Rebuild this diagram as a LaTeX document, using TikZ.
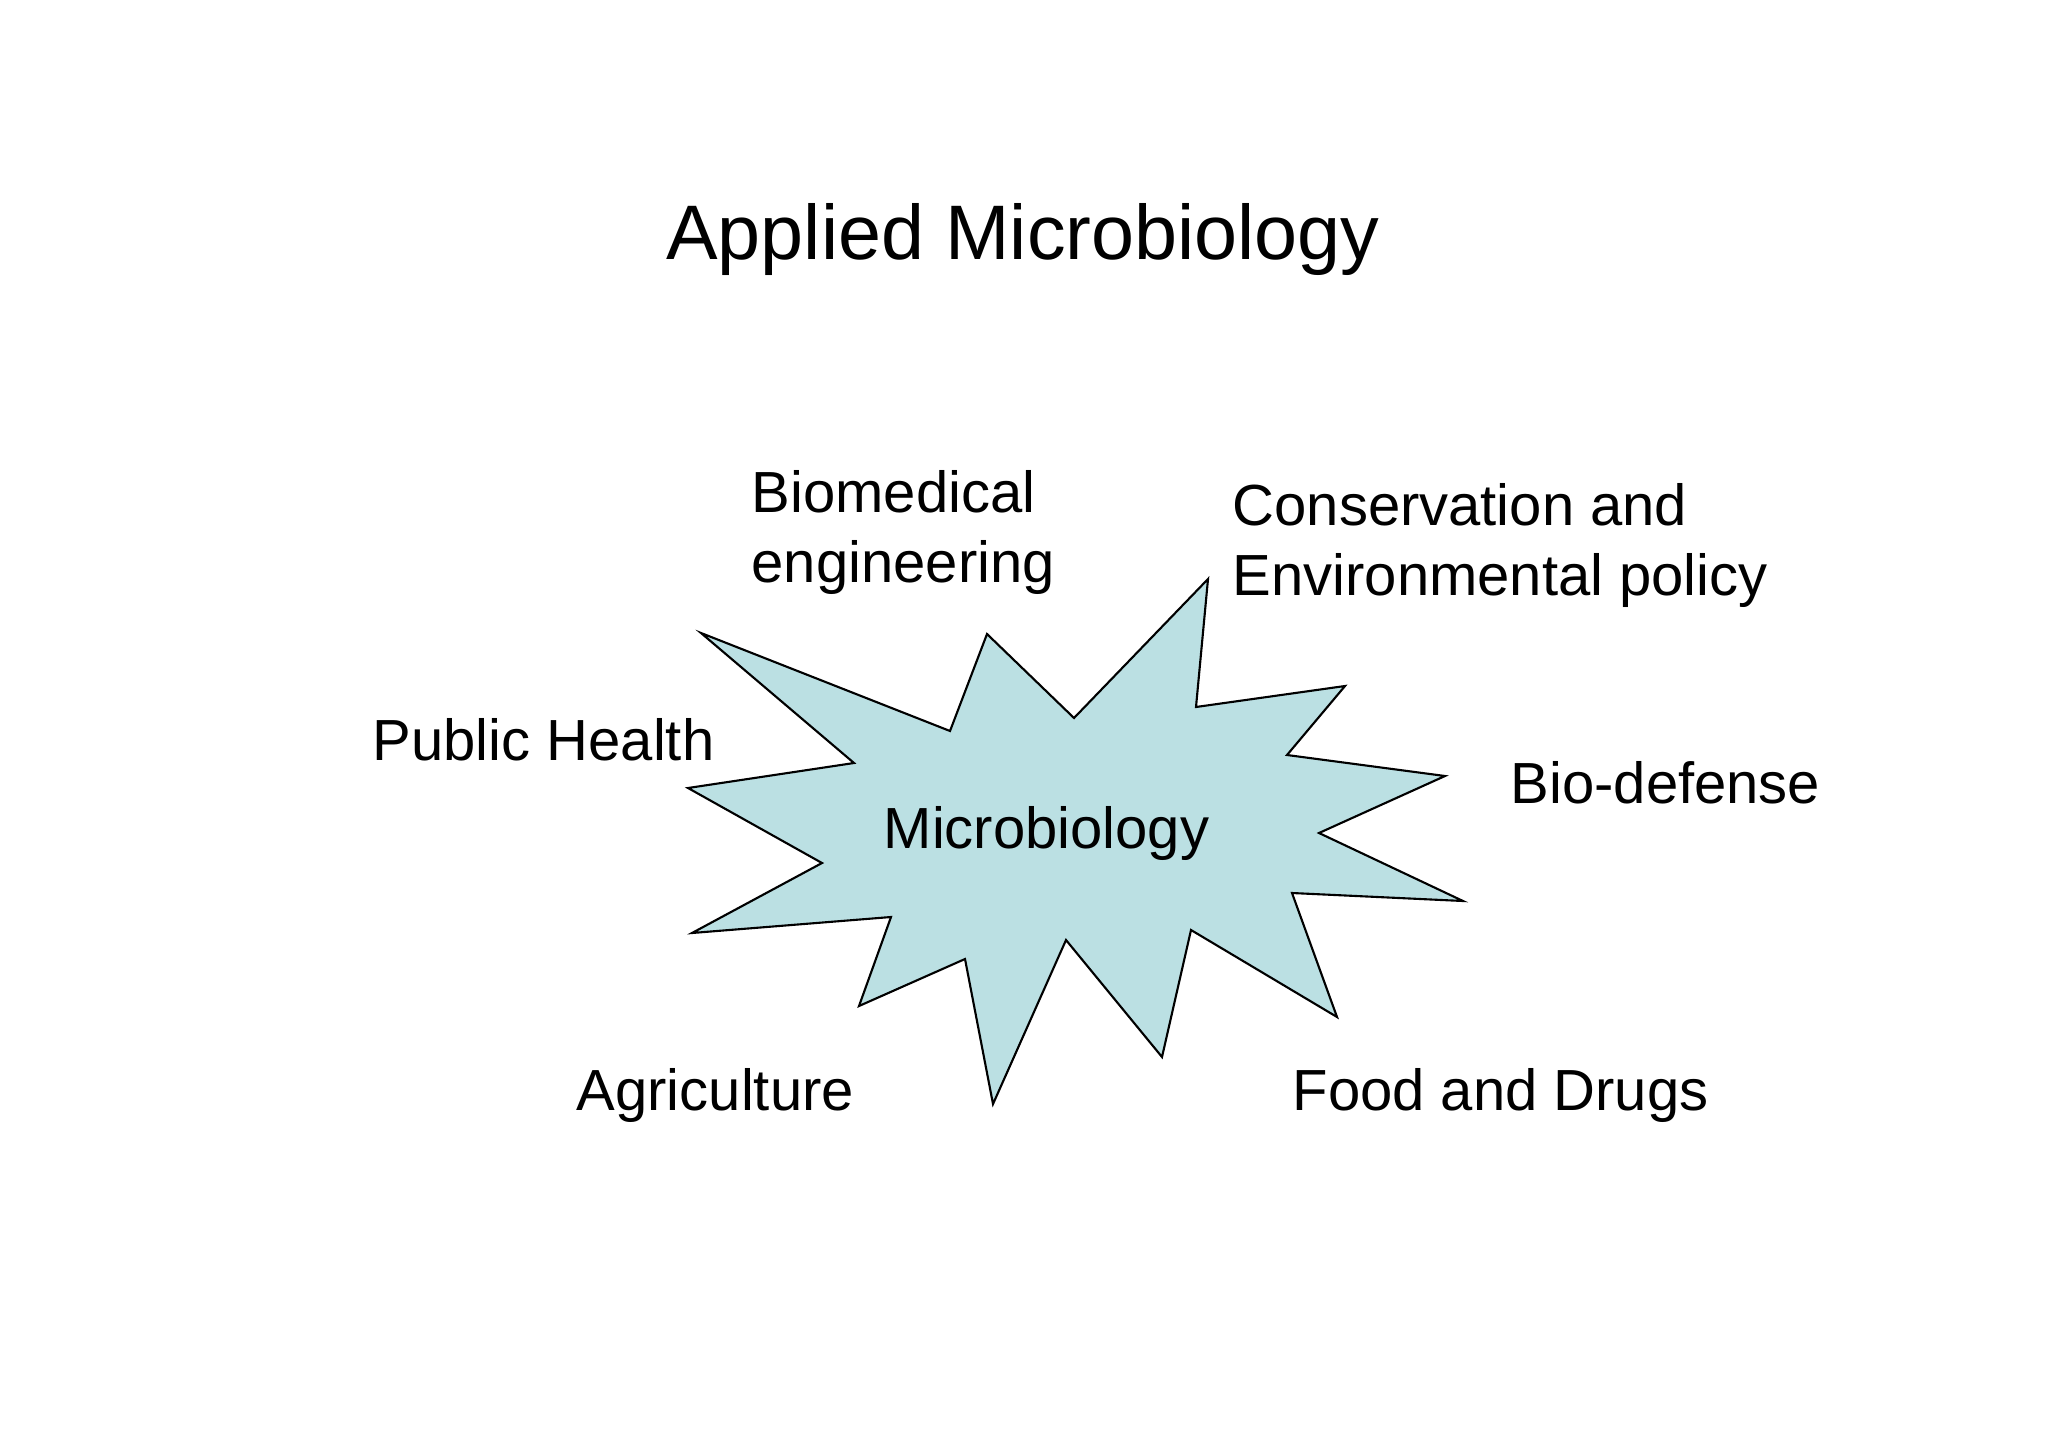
\documentclass[tikz,border=0pt]{standalone}
\usepackage{fontspec}
\setmainfont{Liberation Sans}
\definecolor{burstfill}{HTML}{BBE0E3}
\begin{document}
\begin{tikzpicture}[x=0.1mm, y=-0.1mm,
	lbl/.style = {anchor=base west, inner sep=0pt, align=left, font=\fontsize{16.5}{19.8}\selectfont},
	burst/.style = {draw, fill=burstfill, line width=0.6pt}]
	\useasboundingbox (0,0) rectangle (2048,1448);
		% the burst
		\filldraw[burst] (701,633) -- (950,731) -- (987,634) -- (1074,718)
			-- (1208,579) -- (1196,707) -- (1345,686) -- (1287,755)
			-- (1445,776) -- (1319,833) -- (1463,901) -- (1292,893)
			-- (1337,1017) -- (1191,930) -- (1162,1057) -- (1066,940)
			-- (993,1104) -- (965,959) -- (859,1006) -- (891,917)
			-- (692,933) -- (822,863) -- (688,788) -- (854,763) -- cycle;
		\node[anchor=base, inner sep=0pt, font=\fontsize{22}{26}\selectfont] (title) at (1023,259) {Applied Microbiology};
		\node[lbl] (micro) at (883,848) {Microbiology};
		% base of a two-line label is its last line
		\node[lbl] (biomed) at (751,582) {Biomedical\\engineering};
		\node[lbl] (conserv) at (1232,595) {Conservation and\\Environmental policy};
		\node[lbl] (health) at (372,760) {Public Health};
		\node[lbl] (defense) at (1510,803) {Bio-defense};
		\node[lbl] (agri) at (576,1110) {Agriculture};
		\node[lbl] (food) at (1292,1110) {Food and Drugs};
	\end{tikzpicture}
\end{document}
